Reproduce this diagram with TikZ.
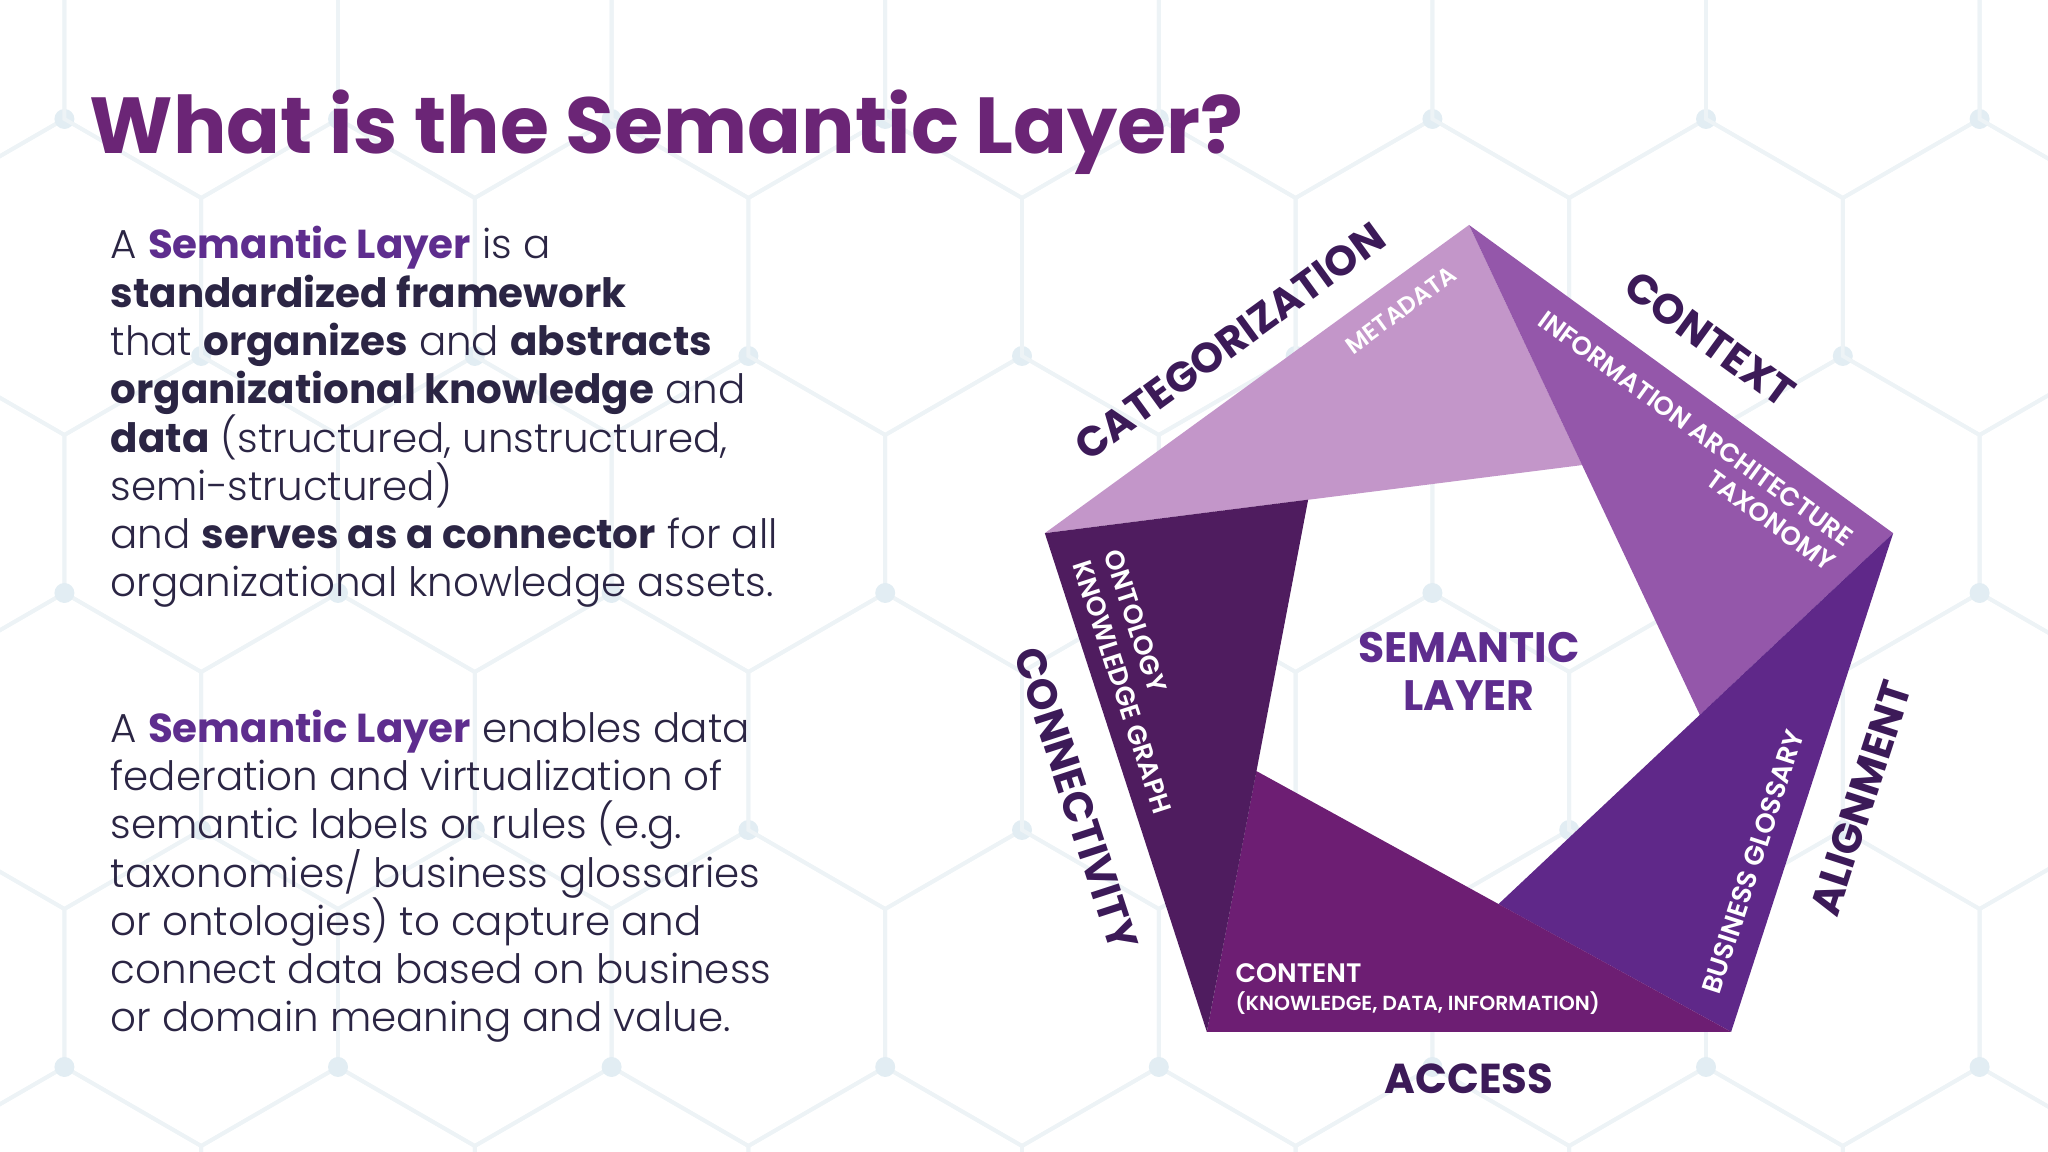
\documentclass[tikz,border=0pt]{standalone}
\usepackage{fontspec}
\IfFontExistsTF{Poppins Light}{\setmainfont{Poppins}[UprightFont={* Light},BoldFont={* Bold}]}{\setmainfont{Poppins}}
\IfFontExistsTF{Poppins SemiBold}{\newfontfamily\semib{Poppins SemiBold}}{\newcommand\semib{\bfseries}}
\definecolor{titlecol}{HTML}{6B2576}
\definecolor{textcol}{HTML}{2B2544}
\definecolor{semcol}{HTML}{5E2D8E}
\definecolor{labelcol}{HTML}{3C1A58}
\definecolor{catcol}{HTML}{C396C9}
\definecolor{ctxcol}{HTML}{9457AA}
\definecolor{alncol}{HTML}{5F2889}
\definecolor{acccol}{HTML}{6D1E73}
\definecolor{concol}{HTML}{4F1C5F}
\definecolor{hexcol}{HTML}{EDF3F6}
\definecolor{dotcol}{HTML}{E2EDF3}
\setlength{\lineskiplimit}{-100pt}
\begin{document}
\begin{tikzpicture}
			\tikzset{hexline/.style = {draw=hexcol, line width=1.1pt}}
			\tikzset{outer/.style = {text=labelcol, font=\fontsize{11.9}{14}\selectfont\bfseries, inner sep=0pt}}
			\tikzset{inner/.style = {text=white, font=\fontsize{7.4}{8.6}\selectfont\semib, inner sep=0pt}}
			\tikzset{body/.style = {text=textcol, font=\fontsize{11.5}{13.75}\selectfont, align=left, inner sep=0pt, anchor=base west}}
			\useasboundingbox (0,0) rectangle (20.48,11.52);
			% Draw background
			\begin{scope}
				\clip (0,0) rectangle (20.48,11.52);
				\foreach \i in {-7,...,2} {
					\foreach \j in {-2,...,4} {
						\pgfmathsetmacro{\x}{17.06+2.736*\i+1.368*mod(\j,2)}
						\pgfmathsetmacro{\y}{8.75-2.37*\j}
						\draw[hexline] (\x,\y) +(30:1.58) -- +(90:1.58) -- +(150:1.58) -- +(210:1.58) -- +(270:1.58) -- +(330:1.58) -- cycle;
						\fill[dotcol] (\x,\y) +(90:1.58) circle (0.1);
					}
				}
			\end{scope}
			% Draw text
			\node[text=titlecol, font=\fontsize{22.6}{27}\selectfont\bfseries, inner sep=0pt, anchor=base west] (title) at (0.89,9.98) {What is the Semantic Layer?};
			\node[body] (def) at (1.10,5.55) {A \textcolor{semcol}{\textbf{Semantic Layer}} is a\\
				\textbf{standardized framework}\\
				that \textbf{organizes} and \textbf{abstracts}\\
				\textbf{organizational knowledge} and\\
				\textbf{data} (structured, unstructured,\\
				semi-structured)\\
				and \textbf{serves as a connector} for all\\
				organizational knowledge assets.};
			\node[body] (use) at (1.10,1.20) {A \textcolor{semcol}{\textbf{Semantic Layer}} enables data\\
				federation and virtualization of\\
				semantic labels or rules (e.g.\\
				taxonomies/ business glossaries\\
				or ontologies) to capture and\\
				connect data based on business\\
				or domain meaning and value.};
			% Draw pentagon
			\begin{scope}[shift={(14.69,4.81)}]
				\coordinate (A) at (90:4.46);
				\coordinate (B) at (18:4.46);
				\coordinate (C) at (-54:4.46);
				\coordinate (D) at (-126:4.46);
				\coordinate (E) at (162:4.46);
				\coordinate (a) at (61.2:2.35);
				\coordinate (b) at (-10.8:2.35);
				\coordinate (c) at (-82.8:2.35);
				\coordinate (d) at (-154.8:2.35);
				\coordinate (e) at (133.2:2.35);
				\fill[catcol] (E) -- (A) -- (a) -- cycle;
				\fill[ctxcol] (A) -- (B) -- (b) -- cycle;
				\fill[alncol] (B) -- (C) -- (c) -- cycle;
				\fill[acccol] (C) -- (D) -- (d) -- cycle;
				\fill[concol] (D) -- (E) -- (e) -- cycle;
				\node[outer, rotate=36] (cat) at (126:4.07) {CATEGORIZATION};
				\node[outer, rotate=-36] (ctx) at (54:4.10) {CONTEXT};
				\node[outer, rotate=72] (aln) at (-18:4.12) {ALIGNMENT};
				\node[outer] (acc) at (-90:4.08) {ACCESS};
				\node[outer, rotate=-72] (con) at (198:4.13) {CONNECTIVITY};
				\node[inner, rotate=36, font=\fontsize{6.8}{8}\selectfont\semib] (meta) at (-0.68,3.61) {METADATA};
				\node[inner, rotate=-36, align=right] (info) at (2.18,2.30) {INFORMATION ARCHITECTURE\\TAXONOMY};
				\node[inner, rotate=72, font=\fontsize{7.7}{9}\selectfont\semib] (gloss) at (2.84,-1.91) {BUSINESS GLOSSARY};
				\node[inner, rotate=-72, align=left, font=\fontsize{7.6}{9.4}\selectfont\semib] (onto) at (-3.31,-0.11) {ONTOLOGY\\KNOWLEDGE GRAPH};
				\node[inner, anchor=base west, font=\fontsize{7.6}{9}\selectfont\semib] (cnt) at (-2.34,-3.12) {CONTENT};
				\node[inner, anchor=base west, font=\fontsize{5.8}{7}\selectfont\semib] (kdi) at ([yshift=-2.8mm]cnt.base west) {(KNOWLEDGE, DATA, INFORMATION)};
				\node[text=semcol, font=\fontsize{12.1}{13.7}\selectfont\bfseries, align=center] (sem) at (0,0) {SEMANTIC\\LAYER};
			\end{scope}
		\end{tikzpicture}
\end{document}
